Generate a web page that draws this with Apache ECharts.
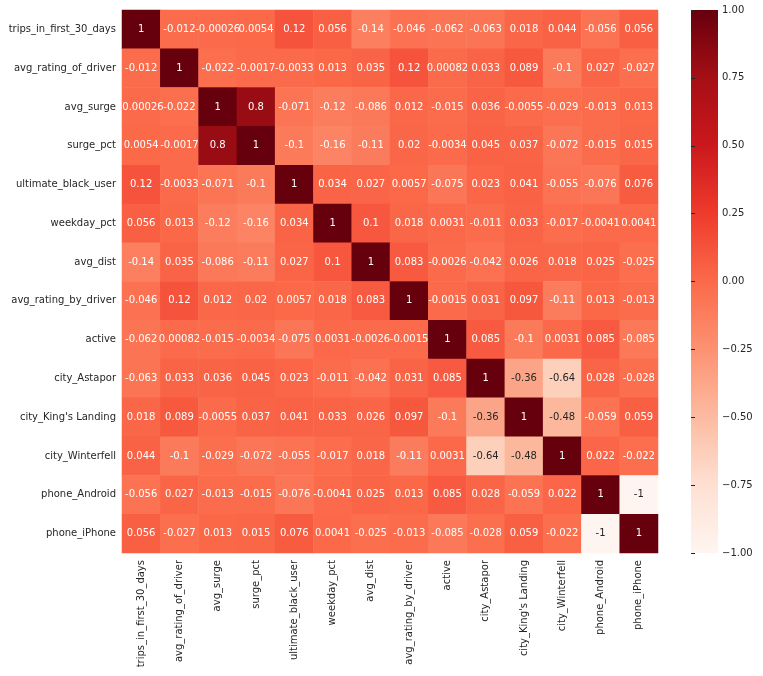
<!DOCTYPE html>
<html>
<head>
<meta charset="utf-8">
<script src="https://cdn.jsdelivr.net/npm/echarts@6/dist/echarts.min.js"></script>
<style>html,body{margin:0;padding:0;background:#fff;}#c{width:763px;height:676px;}</style>
</head>
<body>
<div id="c"></div>
<script>
const labels = ["trips_in_first_30_days","avg_rating_of_driver","avg_surge","surge_pct","ultimate_black_user","weekday_pct","avg_dist","avg_rating_by_driver","active","city_Astapor","city_King's Landing","city_Winterfell","phone_Android","phone_iPhone"];
const corr = [
 [1, -0.012, -0.00026, 0.0054, 0.12, 0.056, -0.14, -0.046, -0.062, -0.063, 0.018, 0.044, -0.056, 0.056],
 [-0.012, 1, -0.022, -0.0017, -0.0033, 0.013, 0.035, 0.12, 0.00082, 0.033, 0.089, -0.1, 0.027, -0.027],
 [-0.00026, -0.022, 1, 0.8, -0.071, -0.12, -0.086, 0.012, -0.015, 0.036, -0.0055, -0.029, -0.013, 0.013],
 [0.0054, -0.0017, 0.8, 1, -0.1, -0.16, -0.11, 0.02, -0.0034, 0.045, 0.037, -0.072, -0.015, 0.015],
 [0.12, -0.0033, -0.071, -0.1, 1, 0.034, 0.027, 0.0057, -0.075, 0.023, 0.041, -0.055, -0.076, 0.076],
 [0.056, 0.013, -0.12, -0.16, 0.034, 1, 0.1, 0.018, 0.0031, -0.011, 0.033, -0.017, -0.0041, 0.0041],
 [-0.14, 0.035, -0.086, -0.11, 0.027, 0.1, 1, 0.083, -0.0026, -0.042, 0.026, 0.018, 0.025, -0.025],
 [-0.046, 0.12, 0.012, 0.02, 0.0057, 0.018, 0.083, 1, -0.0015, 0.031, 0.097, -0.11, 0.013, -0.013],
 [-0.062, 0.00082, -0.015, -0.0034, -0.075, 0.0031, -0.0026, -0.0015, 1, 0.085, -0.1, 0.0031, 0.085, -0.085],
 [-0.063, 0.033, 0.036, 0.045, 0.023, -0.011, -0.042, 0.031, 0.085, 1, -0.36, -0.64, 0.028, -0.028],
 [0.018, 0.089, -0.0055, 0.037, 0.041, 0.033, 0.026, 0.097, -0.1, -0.36, 1, -0.48, -0.059, 0.059],
 [0.044, -0.1, -0.029, -0.072, -0.055, -0.017, 0.018, -0.11, 0.0031, -0.64, -0.48, 1, 0.022, -0.022],
 [-0.056, 0.027, -0.013, -0.015, -0.076, -0.0041, 0.025, 0.013, 0.085, 0.028, -0.059, 0.022, 1, -1],
 [0.056, -0.027, 0.013, 0.015, 0.076, 0.0041, -0.025, -0.013, -0.085, -0.028, 0.059, -0.022, -1, 1]
];
const colorbarTicks = [-1, -0.75, -0.5, -0.25, 0, 0.25, 0.5, 0.75, 1];
const redsColors = ['#fff5f0','#fee0d2','#fcbba1','#fc9272','#fb6a4a','#ef3b2c','#cb181d','#a50f15','#67000d'];

const FONT = 'DejaVu Sans';
const data = [];
corr.forEach((row, i) => row.forEach((v, j) => {
  data.push({value: [j, i, v], label: {color: v <= -0.3 ? '#262626' : '#ffffff'}});
}));
function fmt2g(v){ return String(Number(v.toPrecision(2))); }

const CB = {left: 691, top: 10, width: 27, height: 543};
const chart = echarts.init(document.getElementById('c'), null, {renderer: 'canvas'});
chart.setOption({
  animation: false,
  backgroundColor: '#fff',
  grid: [
    {left: 122, top: 10, width: 536, height: 543},
    {left: CB.left, top: CB.top, width: CB.width, height: CB.height, show: false}
  ],
  xAxis: [
    {type: 'category', data: labels, gridIndex: 0, position: 'bottom',
     axisLine: {show: false}, splitLine: {show: false},
     axisTick: {alignWithLabel: true, length: 4, lineStyle: {color: '#262626'}},
     axisLabel: {rotate: 90, interval: 0, fontFamily: FONT, fontSize: 10, color: '#262626', margin: 7}},
    {type: 'value', gridIndex: 1, show: false, min: 0, max: 1}
  ],
  yAxis: [
    {type: 'category', data: labels, gridIndex: 0, inverse: true,
     axisLine: {show: false}, splitLine: {show: false},
     axisTick: {alignWithLabel: true, length: 4, lineStyle: {color: '#262626'}},
     axisLabel: {interval: 0, fontFamily: FONT, fontSize: 10, color: '#262626', margin: 6}},
    {type: 'value', gridIndex: 1, position: 'right', min: colorbarTicks[0], max: colorbarTicks[colorbarTicks.length-1], interval: 0.25,
     axisLine: {show: false}, splitLine: {show: false},
     axisTick: {show: true, length: 4, lineStyle: {color: '#262626'}},
     axisLabel: {fontFamily: FONT, fontSize: 10, color: '#262626', margin: 4,
       formatter: v => (v < 0 ? '\u2212' : '') + Math.abs(v).toFixed(2)}}
  ],
  visualMap: {
    type: 'continuous', min: -1, max: 1, show: false, seriesIndex: 0,
    inRange: {color: redsColors}
  },
  graphic: [{
    type: 'rect', left: CB.left, top: CB.top, silent: true, z: -1,
    shape: {width: CB.width, height: CB.height},
    style: {fill: new echarts.graphic.LinearGradient(0, 1, 0, 0,
      redsColors.map((c, i) => ({offset: i / (redsColors.length - 1), color: c})))}
  }],
  series: [{
    type: 'heatmap', xAxisIndex: 0, yAxisIndex: 0, data: data,
    label: {show: true, fontFamily: FONT, fontSize: 10, formatter: p => fmt2g(p.value[2])},
    itemStyle: {borderWidth: 0},
    emphasis: {disabled: true}
  }]
});
</script>
</body>
</html>
